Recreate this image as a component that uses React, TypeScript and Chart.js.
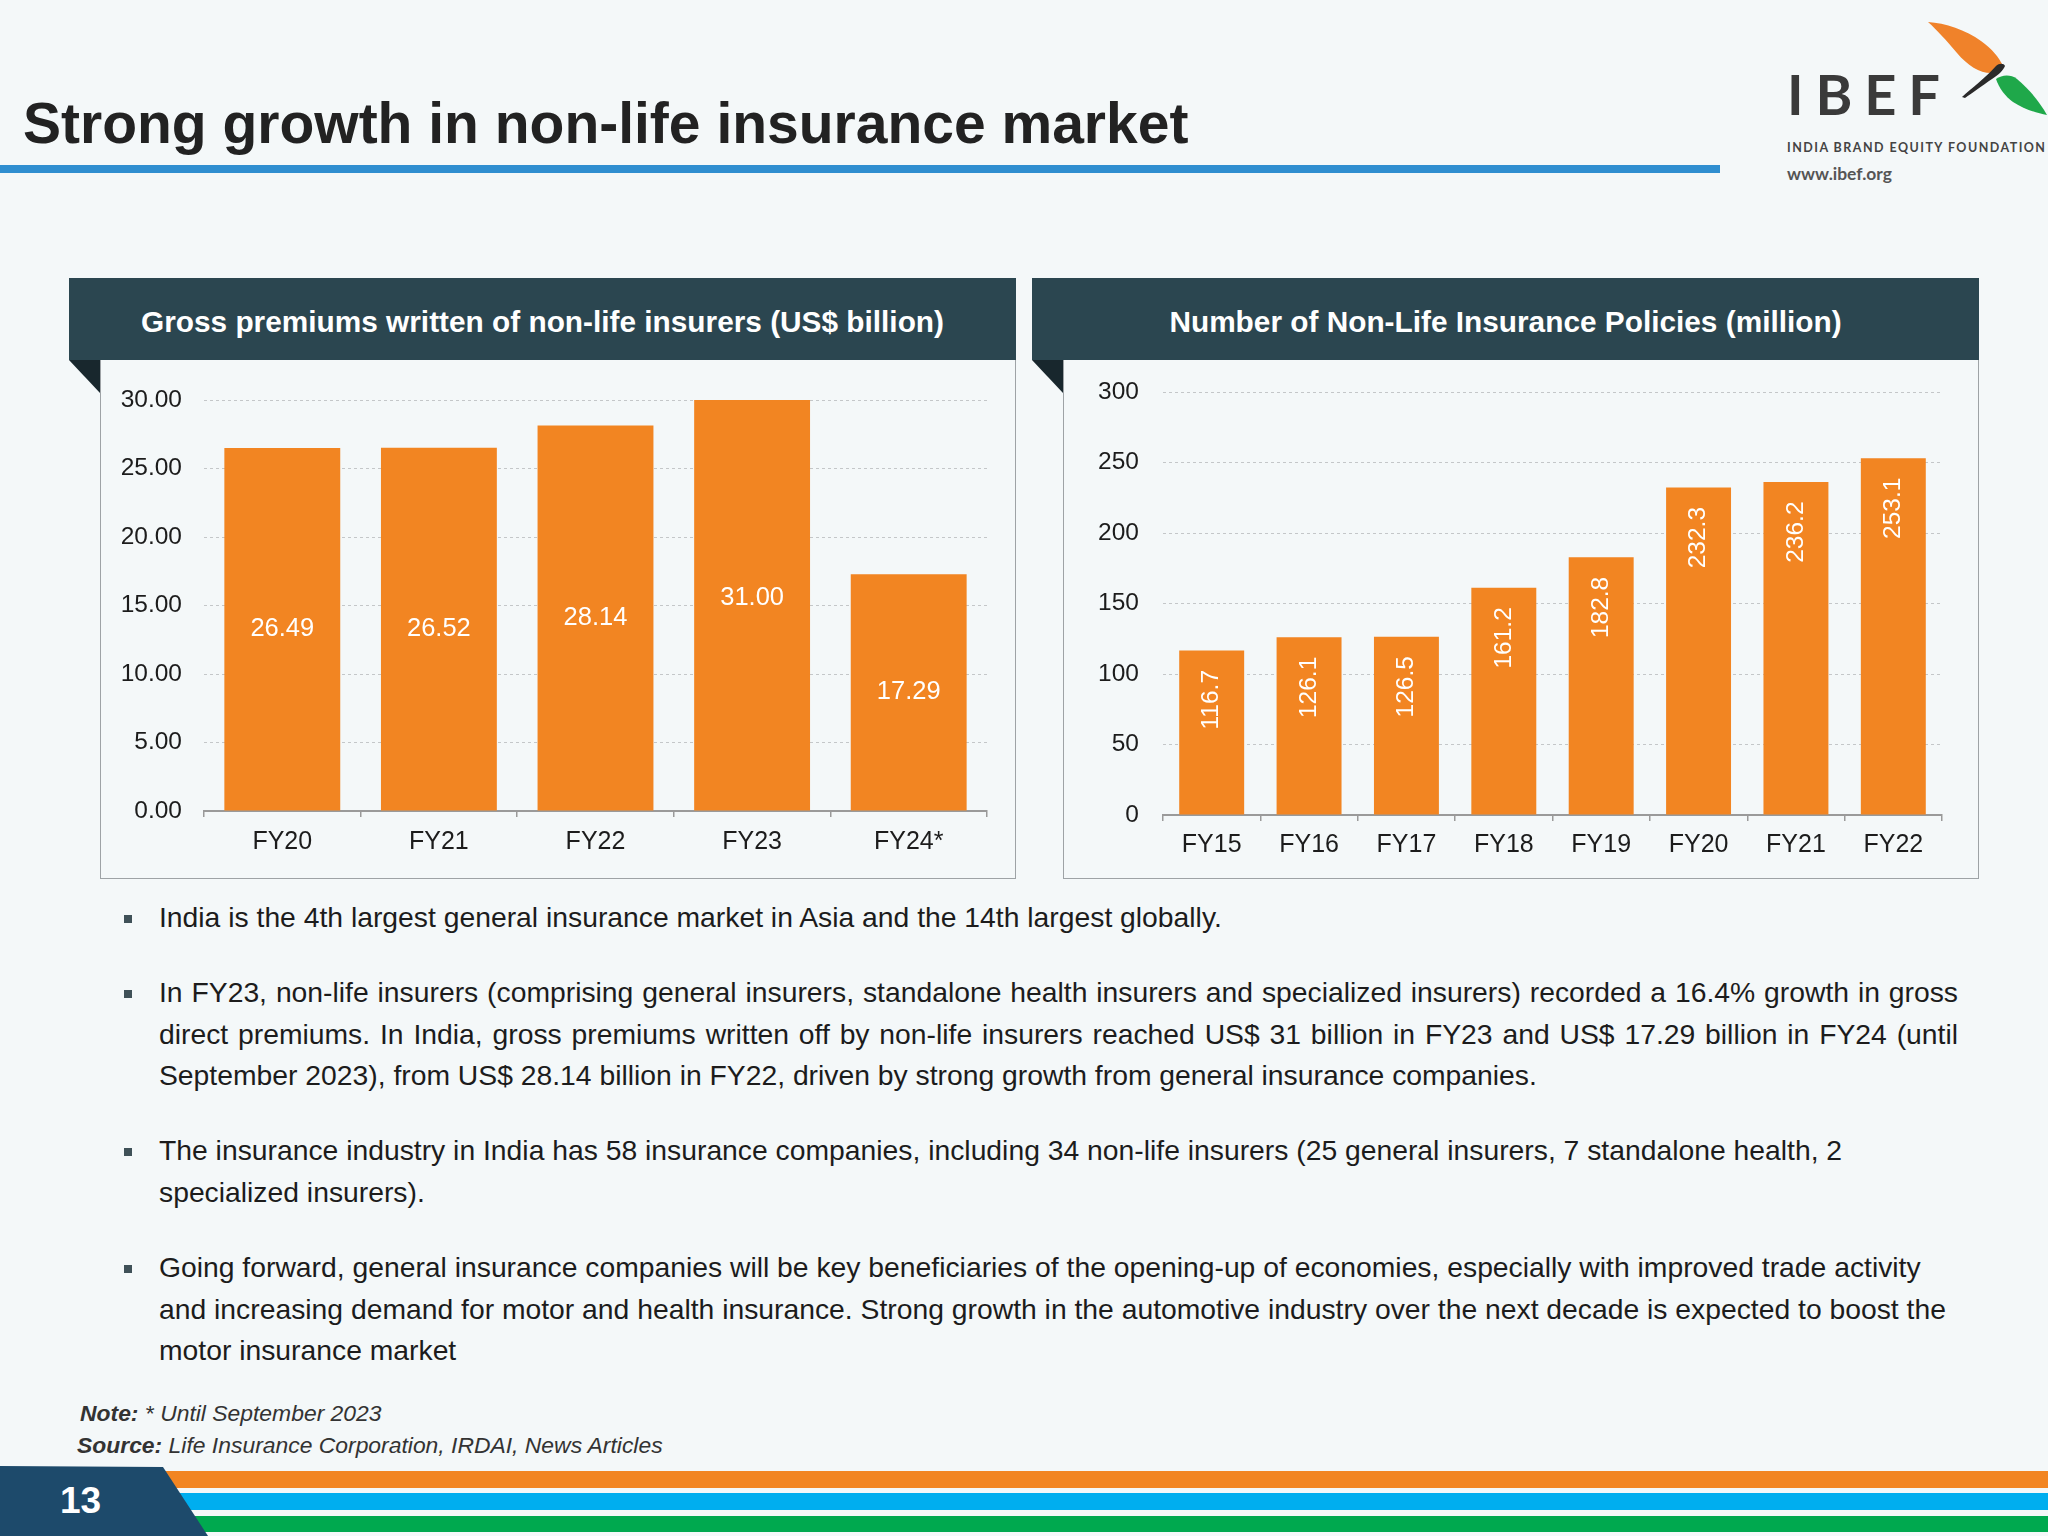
import React, { useEffect, useRef } from 'react';
import { Chart, registerables } from 'chart.js';

Chart.register(...registerables);

const FONT = '"Liberation Sans", Arial, Helvetica, sans-serif';
const ORANGE = '#F28522';
const TEXT = '#1c1c1c';

// ---- Data: gross premiums (US$ billion) ----
const premiumCategories = ['FY20', 'FY21', 'FY22', 'FY23', 'FY24*'];
const premiumValues = [26.49, 26.52, 28.14, 31.0, 17.29];
const premiumAxisMax = 30;
const premiumAxisStep = 5;

// ---- Data: number of non-life policies (million) ----
const policyCategories = ['FY15', 'FY16', 'FY17', 'FY18', 'FY19', 'FY20', 'FY21', 'FY22'];
const policyValues = [116.7, 126.1, 126.5, 161.2, 182.8, 232.3, 236.2, 253.1];
const policyAxisMax = 300;
const policyAxisStep = 50;

const premiumTitle = 'Gross premiums written of non-life insurers (US$ billion)';
const policyTitle = 'Number of Non-Life Insurance Policies (million)';

const para1 = ['India is the 4th largest general insurance market in Asia and the 14th largest globally.'];
const para2 = [
  'In FY23, non-life insurers (comprising general insurers, standalone health insurers and specialized insurers) recorded a 16.4% growth in gross',
  'direct premiums. In India, gross premiums written off by non-life insurers reached US$ 31 billion in FY23 and US$ 17.29 billion in FY24 (until',
  'September 2023), from US$ 28.14 billion in FY22, driven by strong growth from general insurance companies.',
];
const para3 = [
  'The insurance industry in India has 58 insurance companies, including 34 non-life insurers (25 general insurers, 7 standalone health, 2',
  'specialized insurers).',
];
const para4 = [
  'Going forward, general insurance companies will be key beneficiaries of the opening-up of economies, especially with improved trade activity',
  'and increasing demand for motor and health insurance. Strong growth in the automotive industry over the next decade is expected to boost the',
  'motor insurance market',
];

const barLabelPlugin = {
  id: 'barLabels',
  afterDatasetsDraw(chart: any, _args: any, opts: any) {
    if (!opts || !opts.mode) return;
    const ctx = chart.ctx;
    const meta = chart.getDatasetMeta(0);
    const data = chart.data.datasets[0].data as number[];
    ctx.save();
    ctx.fillStyle = '#ffffff';
    ctx.font = `${opts.size}px ${FONT}`;
    meta.data.forEach((bar: any, i: number) => {
      const v = data[i];
      const { x, y, base } = bar.getProps(['x', 'y', 'base'], true);
      const txt = v.toFixed(opts.decimals);
      if (opts.mode === 'center') {
        ctx.textAlign = 'center';
        ctx.textBaseline = 'middle';
        ctx.fillText(txt, x, (y + base) / 2);
      } else {
        ctx.save();
        ctx.translate(x, y + opts.inset);
        ctx.rotate(-Math.PI / 2);
        ctx.textAlign = 'right';
        ctx.textBaseline = 'middle';
        ctx.fillText(txt, 0, 0);
        ctx.restore();
      }
    });
    ctx.restore();
  },
};

type ChartSpec = {
  labels: string[];
  values: number[];
  max: number;
  step: number;
  decimals: number;
  barPct: number;
  padTop: number;
  padRight: number;
  yWidth: number;
  yPad: number;
  xHeight: number;
  xPad: number;
  label: any;
  width: number;
  height: number;
};

function BarCanvas({ spec, left, top }: { spec: ChartSpec; left: number; top: number }) {
  const ref = useRef<HTMLCanvasElement | null>(null);
  useEffect(() => {
    if (!ref.current) return;
    const chart = new Chart(ref.current, {
      type: 'bar',
      data: {
        labels: spec.labels,
        datasets: [
          {
            data: spec.values,
            backgroundColor: ORANGE,
            borderWidth: 0,
            categoryPercentage: 1,
            barPercentage: spec.barPct,
            clip: 0,
          } as any,
        ],
      },
      options: {
        responsive: false,
        animation: false,
        events: [],
        layout: { padding: { top: spec.padTop, right: spec.padRight, left: 0, bottom: 0 } },
        plugins: {
          legend: { display: false },
          tooltip: { enabled: false },
          title: { display: false },
          barLabels: spec.label,
        } as any,
        scales: {
          x: {
            grid: {
              display: true,
              drawOnChartArea: false,
              drawTicks: true,
              tickLength: 6,
              color: '#9a9a9a',
              tickColor: '#9a9a9a',
              lineWidth: 1.5,
              offset: true,
            },
            border: { display: true, color: '#9a9a9a', width: 2 },
            ticks: {
              color: TEXT,
              font: { family: FONT, size: 25 },
              padding: spec.xPad,
              maxRotation: 0,
              autoSkip: false,
            },
            afterFit: (s: any) => {
              s.height = spec.xHeight;
            },
          },
          y: {
            min: 0,
            max: spec.max,
            ticks: {
              stepSize: spec.step,
              color: TEXT,
              font: { family: FONT, size: 24.5, lineHeight: 0.2 },
              padding: spec.yPad,
              callback: (v: any) => Number(v).toFixed(spec.decimals === 2 ? 2 : 0),
            },
            grid: {
              drawTicks: false,
              lineWidth: 1,
              color: (c: any) => (c.tick && c.tick.value === 0 ? 'rgba(0,0,0,0)' : '#c4c7c9'),
            },
            border: { display: false, dash: [3, 3] },
            afterFit: (s: any) => {
              s.width = spec.yWidth;
            },
          },
        } as any,
      },
      plugins: [barLabelPlugin as any],
    });
    return () => chart.destroy();
  }, []);
  return (
    <canvas
      ref={ref}
      width={spec.width}
      height={spec.height}
      style={{ position: 'absolute', left, top, width: spec.width, height: spec.height }}
    />
  );
}

function Panel({ x, bodyX, title, spec }: { x: number; bodyX: number; title: string; spec: ChartSpec }) {
  const right = 1016 + (x - 69);
  return (
    <>
      <div
        style={{
          position: 'absolute',
          left: bodyX,
          top: 360,
          width: right - bodyX,
          height: 519,
          boxSizing: 'border-box',
          borderLeft: '1.5px solid #9ea3a6',
          borderRight: '1.5px solid #9ea3a6',
          borderBottom: '1.5px solid #9ea3a6',
        }}
      />
      <div
        style={{
          position: 'absolute',
          left: x,
          top: 278,
          width: right - x,
          height: 82,
          background: '#2B4650',
          color: '#ffffff',
          display: 'flex',
          alignItems: 'center',
          justifyContent: 'center',
          paddingTop: 5,
          boxSizing: 'border-box',
          fontWeight: 700,
          fontSize: 29.8,
          whiteSpace: 'nowrap',
        }}
      >
        {title}
      </div>
      <svg style={{ position: 'absolute', left: x, top: 360 }} width={bodyX - x} height={34}>
        <polygon points={`0,0 ${bodyX - x},0 ${bodyX - x},33`} fill="#18272d" />
      </svg>
      <BarCanvas spec={spec} left={bodyX} top={362} />
    </>
  );
}

function Para({ top, lines, justify }: { top: number; lines: string[]; justify: number }) {
  return (
    <>
      <div style={{ position: 'absolute', left: 124, top: top + 18, width: 8, height: 8, background: '#3f5158' }} />
      {lines.map((l, i) => (
        <div
          key={i}
          style={{
            position: 'absolute',
            left: 159,
            top: top + i * 41.5,
            width: 1799,
            fontSize: 28.3,
            lineHeight: '41.5px',
            color: TEXT,
            whiteSpace: 'nowrap',
            textAlign: i < justify ? 'justify' : 'left',
            textAlignLast: i < justify ? 'justify' : 'left',
          } as any}
        >
          {l}
        </div>
      ))}
    </>
  );
}

export default function App() {
  useEffect(() => {
    document.body.style.margin = '0';
  }, []);

  const leftSpec: ChartSpec = {
    labels: premiumCategories,
    values: premiumValues,
    max: premiumAxisMax,
    step: premiumAxisStep,
    decimals: 2,
    barPct: 0.74,
    padTop: 38,
    padRight: 29,
    yWidth: 104,
    yPad: 22,
    xHeight: 66,
    xPad: 10,
    label: { mode: 'center', size: 25.5, decimals: 2 },
    width: 916,
    height: 515,
  };
  const rightSpec: ChartSpec = {
    labels: policyCategories,
    values: policyValues,
    max: policyAxisMax,
    step: policyAxisStep,
    decimals: 1,
    barPct: 0.667,
    padTop: 30,
    padRight: 37,
    yWidth: 100,
    yPad: 24,
    xHeight: 62,
    xPad: 9,
    label: { mode: 'inset', size: 24.5, decimals: 1, inset: 19.5 },
    width: 916,
    height: 515,
  };

  return (
    <div
      style={{
        position: 'absolute',
        left: 0,
        top: 0,
        width: 2048,
        height: 1536,
        background: '#F4F8F9',
        overflow: 'hidden',
        fontFamily: FONT,
      }}
    >
      {/* Title */}
      <div
        style={{
          position: 'absolute',
          left: 23,
          top: 95,
          fontSize: 57,
          lineHeight: 1,
          fontWeight: 700,
          color: '#222222',
          whiteSpace: 'nowrap',
        }}
      >
        Strong growth in non-life insurance market
      </div>
      <div style={{ position: 'absolute', left: 0, top: 165, width: 1720, height: 8, background: '#2F8ED0' }} />

      {/* Logo */}
      <svg style={{ position: 'absolute', left: 1760, top: 0 }} width={288} height={200} viewBox="1760 0 288 200">
        <path
          d="M1928,22 C1945,23 1966,30 1981,41 C1992,49 1999,57 2003,66 L1993,73 C1981,74 1968,66 1957,53 C1946,40 1937,30 1928,22 Z"
          fill="#F0822A"
        />
        <path
          d="M1996,79 C2002,75 2010,74 2017,79 C2029,89 2039,101 2047,115 C2036,113 2024,109 2013,102 C2005,96 1999,88 1996,79 Z"
          fill="#1FA84A"
        />
        <path d="M1962,97 C1972,88 1985,78 1996,66 C1999,63 2004,63 2005,66 C2003,71 1998,75 1992,79 C1982,86 1972,93 1965,98 Z" fill="#2a2a2a" />
        <text
          x={1787}
          y={115}
          fontFamily="Lato, 'Open Sans', sans-serif"
          fontSize={56}
          fontWeight={700}
          fill="#3a3a3a"
          textLength={153}
          lengthAdjust="spacing"
        >
          IBEF
        </text>
        <text
          x={1787}
          y={152}
          fontFamily="Lato, 'Open Sans', sans-serif"
          fontSize={12.5}
          fontWeight={700}
          fill="#444"
          textLength={258}
          lengthAdjust="spacing"
        >
          INDIA BRAND EQUITY FOUNDATION
        </text>
        <text
          x={1787}
          y={180}
          fontFamily="Lato, 'Open Sans', sans-serif"
          fontSize={17.5}
          fontWeight={700}
          fill="#555"
          textLength={105}
          lengthAdjust="spacingAndGlyphs"
        >
          www.ibef.org
        </text>
      </svg>

      {/* Panels */}
      <Panel x={69} bodyX={100} title={premiumTitle} spec={leftSpec} />
      <Panel x={1032} bodyX={1063} title={policyTitle} spec={rightSpec} />

      {/* Bullets */}
      <Para top={897} lines={para1} justify={0} />
      <Para top={972} lines={para2} justify={2} />
      <Para top={1130} lines={para3} justify={0} />
      <Para top={1247} lines={para4} justify={0} />

      {/* Note / Source */}
      <div style={{ position: 'absolute', left: 80, top: 1402, fontSize: 22.9, lineHeight: 1, fontStyle: 'italic', color: '#333', whiteSpace: 'nowrap' }}>
        <b>Note:</b> * Until September 2023
      </div>
      <div style={{ position: 'absolute', left: 77, top: 1434, fontSize: 22.9, lineHeight: 1, fontStyle: 'italic', color: '#333', whiteSpace: 'nowrap' }}>
        <b>Source:</b> Life Insurance Corporation, IRDAI, News Articles
      </div>

      {/* Footer stripes */}
      <div style={{ position: 'absolute', left: 0, top: 1471, width: 2048, height: 17, background: '#F28522' }} />
      <div style={{ position: 'absolute', left: 0, top: 1493, width: 2048, height: 17, background: '#00AEEF' }} />
      <div style={{ position: 'absolute', left: 0, top: 1515.5, width: 2048, height: 16, background: '#00A94F' }} />
      <svg style={{ position: 'absolute', left: 0, top: 1460 }} width={220} height={76}>
        <polygon points="0,6 163,7 208,76 0,76" fill="#1D4A6B" />
      </svg>
      <div style={{ position: 'absolute', left: 60, top: 1482, fontSize: 37, lineHeight: 1, fontWeight: 700, color: '#fff' }}>13</div>
    </div>
  );
}
